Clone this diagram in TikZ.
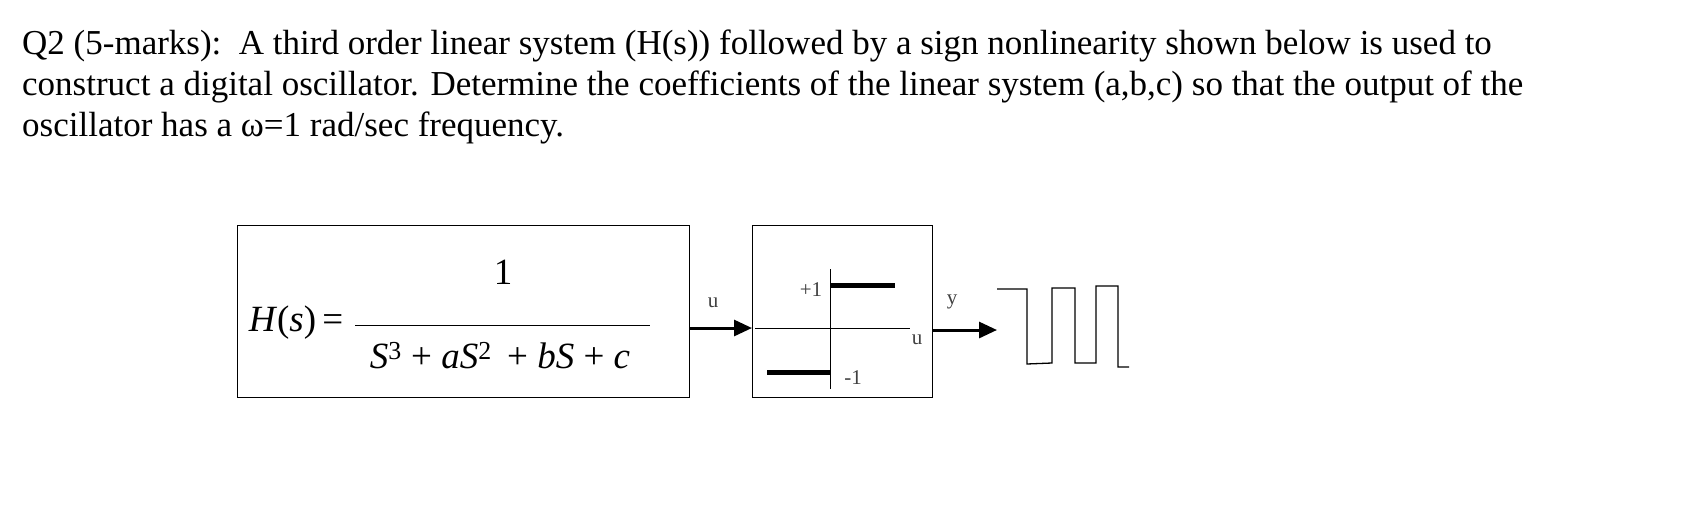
\documentclass[tikz,border=0pt]{standalone}
\usepackage{fontspec}
\setmainfont{Liberation Serif}
\usetikzlibrary{arrows.meta}
\begin{document}
\begin{tikzpicture}[x=1pt,y=-1pt,
  blk/.style={draw,line width=1.3pt},
  sig/.style={line width=3pt,-{Triangle[length=18pt,width=16pt]}},
  lbl/.style={font=\fontsize{21}{21}\selectfont,text=black!75},
  thick bar/.style={line width=5pt},
  eq/.style={font=\fontsize{37}{37}\selectfont}]
\useasboundingbox (0,0) rectangle (1708,528);
\node[anchor=north west,align=left,font=\fontsize{35}{41}\selectfont,inner sep=0pt] (txt) at (22,30)
 {Q2 (5-marks):\ \ A third order linear system (H(s)) followed by a sign nonlinearity shown below is used to\\
  construct a digital oscillator. Determine the coefficients of the linear system (a,b,c) so that the output of the\\
  oscillator has a ω=1 rad/sec frequency.};
\node[blk,minimum width=452,minimum height=172,anchor=north west] (H) at (237,225) {};
\node[blk,minimum width=180,minimum height=172,anchor=north west] (N) at (752,225) {};
\node[eq] (hs) at (296,323) {\textit{H}(\textit{s})\,=};
\draw[line width=1pt] (355,325) -- (650,325);
\node[eq] (num) at (503,272) {1};
\node[eq] (den) at (500,356) {\textit{S}\textsuperscript{3} + \textit{aS}\textsuperscript{2}\, + \textit{bS} + \textit{c}};
\draw[sig] (H.east |- 0,328) -- (N.west |- 0,328);
\node[lbl] (u1) at (713,303) {u};
\coordinate (ax1) at (755,328); \coordinate (ax2) at (910,328);
\draw[line width=1pt] (ax1) -- (ax2);
\coordinate (vy1) at (830,269); \coordinate (vy2) at (830,389);
\draw[line width=1pt] (vy1) -- (vy2);
\coordinate (p1) at (831,285); \coordinate (p2) at (895,285);
\draw[thick bar] (p1) -- (p2);
\coordinate (m1) at (767,372); \coordinate (m2) at (830,372);
\draw[thick bar] (m1) -- (m2);
\node[lbl] (plus) at (811,290) {+1};
\node[lbl] (minus) at (853,378) {-1};
\node[lbl] (u2) at (917,340) {u};
\coordinate (W) at (997,330);
\draw[sig] (N.east |- 0,330) -- (W);
\node[lbl] (yl) at (952,302) {y};
\draw[line width=1.3pt] (997,289) -- (1027,289) -- (1027,364) -- (1052,363) -- (1052,288) -- (1075,288) -- (1075,363) -- (1096,363) -- (1096,286) -- (1118,286) -- (1118,367) -- (1129,367);
\end{tikzpicture}
\end{document}
